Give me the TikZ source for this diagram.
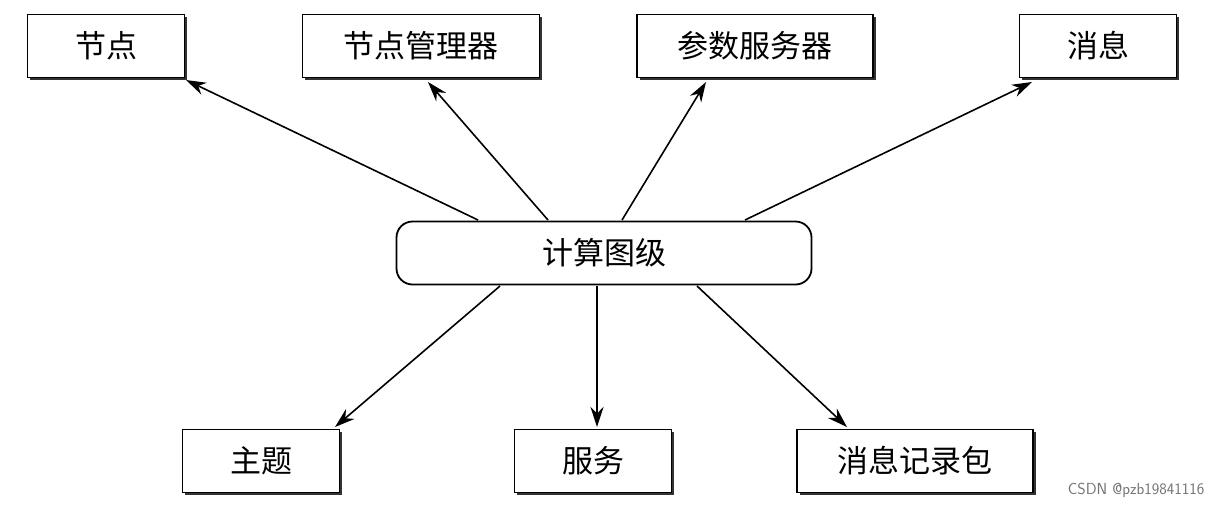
\documentclass[tikz,border=0pt]{standalone}
\usepackage{fontspec}
\newfontfamily\cjk{Noto Sans CJK SC}
\usetikzlibrary{arrows.meta,shadows}
\begin{document}
\begin{tikzpicture}[x=1pt,y=-1pt,
  box/.style={draw,line width=1.8pt,fill=white,inner sep=0pt,font=\cjk\fontsize{31}{33}\selectfont,
    drop shadow={shadow xshift=2.5pt,shadow yshift=-2.5pt,opacity=1,fill=black!80}},
  hub/.style={draw,line width=1.8pt,rounded corners=16pt,inner sep=0pt,font=\cjk\fontsize{31}{33}\selectfont,minimum width=415pt,minimum height=63pt},
  arr/.style={-{Stealth[length=20pt,width=13pt]},line width=1.6pt}]
\useasboundingbox (0,0) rectangle (1222,507);
\node[box,minimum width=157pt,minimum height=63pt] (n1) at (106,46) {节点};
\node[box,minimum width=237pt,minimum height=63pt] (n2) at (421,46) {节点管理器};
\node[box,minimum width=236pt,minimum height=63pt] (n3) at (755,46) {参数服务器};
\node[box,minimum width=157pt,minimum height=63pt] (n4) at (1098,46) {消息};
\node[hub] (c) at (604,253) {计算图级};
\node[box,minimum width=157pt,minimum height=63pt] (b1) at (261,461) {主题};
\node[box,minimum width=157pt,minimum height=63pt] (b2) at (593,461) {服务};
\node[box,minimum width=236pt,minimum height=63pt] (b3) at (915,461) {消息记录包};
\coordinate (t1) at (478,220); \coordinate (t2) at (548,220);
\coordinate (t3) at (622,220); \coordinate (t4) at (745,220);
\coordinate (d1) at (500,286); \coordinate (d2) at (597,286); \coordinate (d3) at (697,286);
\coordinate (e1) at (186,80); \coordinate (e2) at (428,82); \coordinate (e3) at (706,82); \coordinate (e4) at (1032,82);
\coordinate (f1) at (335,427); \coordinate (f2) at (597,427); \coordinate (f3) at (847,427);
\draw[arr] (t1) -- (e1); \draw[arr] (t2) -- (e2); \draw[arr] (t3) -- (e3); \draw[arr] (t4) -- (e4);
\draw[arr] (d1) -- (f1); \draw[arr] (d2) -- (f2); \draw[arr] (d3) -- (f3);
\node[font=\sffamily\fontsize{16}{18}\selectfont,text=black!55,anchor=east] (wm) at (1208,490) {CSDN @pzb19841116};
\end{tikzpicture}
\end{document}
